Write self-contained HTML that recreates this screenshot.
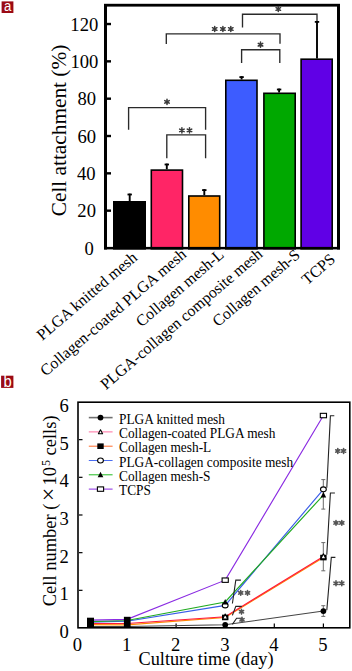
<!DOCTYPE html><html><head><meta charset="utf-8"><style>html,body{margin:0;padding:0;background:#fff;}svg{display:block;}text{font-family:"Liberation Serif",serif;}</style></head><body>
<svg width="352" height="671" viewBox="0 0 352 671">
<rect x="1.6" y="1.4" width="11.8" height="11.6" fill="#9b0a14"/>
<text transform="translate(7.6,11.3) scale(0.85,1)" text-anchor="middle" font-size="15.5" fill="#fff" style="font-family:'Liberation Sans',sans-serif">a</text>
<rect x="1.1" y="375.7" width="12.3" height="12.2" fill="#9b0a14"/>
<text transform="translate(7.6,387.2) scale(0.9,1)" text-anchor="middle" font-size="16.5" fill="#fff" style="font-family:'Liberation Sans',sans-serif">b</text>
<line x1="129.7" y1="201" x2="129.7" y2="193.6" stroke="#000" stroke-width="1.9"/>
<line x1="127.49999999999999" y1="194.5" x2="131.89999999999998" y2="194.5" stroke="#000" stroke-width="1.8"/>
<rect x="113.8" y="201.8" width="31.4" height="47" fill="#000000" stroke="#000" stroke-width="1.6"/>
<line x1="166.8" y1="169.3" x2="166.8" y2="163.6" stroke="#000" stroke-width="1.9"/>
<line x1="164.60000000000002" y1="164.5" x2="169.0" y2="164.5" stroke="#000" stroke-width="1.8"/>
<rect x="151.3" y="170.10000000000002" width="31.20000000000001" height="78.69999999999999" fill="#ff2566" stroke="#000" stroke-width="1.6"/>
<line x1="204.3" y1="195.2" x2="204.3" y2="189.2" stroke="#000" stroke-width="1.9"/>
<line x1="202.10000000000002" y1="190.1" x2="206.5" y2="190.1" stroke="#000" stroke-width="1.8"/>
<rect x="188.8" y="196.0" width="30.9" height="52.80000000000001" fill="#ff8c00" stroke="#000" stroke-width="1.6"/>
<line x1="241.6" y1="79.5" x2="241.6" y2="76.2" stroke="#000" stroke-width="1.9"/>
<line x1="239.4" y1="77.10000000000001" x2="243.79999999999998" y2="77.10000000000001" stroke="#000" stroke-width="1.8"/>
<rect x="225.8" y="80.3" width="31.20000000000001" height="168.5" fill="#3d5cff" stroke="#000" stroke-width="1.6"/>
<line x1="279.1" y1="92.5" x2="279.1" y2="88.6" stroke="#000" stroke-width="1.9"/>
<line x1="276.90000000000003" y1="89.5" x2="281.3" y2="89.5" stroke="#000" stroke-width="1.8"/>
<rect x="263.90000000000003" y="93.3" width="31.299999999999976" height="155.5" fill="#00a800" stroke="#000" stroke-width="1.6"/>
<line x1="317" y1="58.4" x2="317" y2="21" stroke="#000" stroke-width="1.9"/>
<line x1="314.8" y1="21.9" x2="319.2" y2="21.9" stroke="#000" stroke-width="1.8"/>
<rect x="301.1" y="59.199999999999996" width="31.099999999999987" height="189.6" fill="#6000e6" stroke="#000" stroke-width="1.6"/>
<path d="M105.5 4V249.4M338.5 4V249.4" fill="none" stroke="#000" stroke-width="3"/>
<rect x="104" y="3.8" width="236" height="2.8" fill="#000"/>
<rect x="104" y="246.9" width="236" height="2.5" fill="#000"/>
<text x="89.15" y="254.80" text-anchor="middle" font-size="18.6">0</text>
<line x1="107" y1="210.67" x2="111" y2="210.67" stroke="#000" stroke-width="2.4"/>
<text x="86.65" y="217.47" text-anchor="middle" font-size="18.6">20</text>
<line x1="107" y1="173.34" x2="111" y2="173.34" stroke="#000" stroke-width="2.4"/>
<text x="86.3" y="180.14" text-anchor="middle" font-size="18.6">40</text>
<line x1="107" y1="136.01" x2="111" y2="136.01" stroke="#000" stroke-width="2.4"/>
<text x="86.7" y="142.81" text-anchor="middle" font-size="18.6">60</text>
<line x1="107" y1="98.68" x2="111" y2="98.68" stroke="#000" stroke-width="2.4"/>
<text x="86.7" y="105.48" text-anchor="middle" font-size="18.6">80</text>
<line x1="107" y1="61.35" x2="111" y2="61.35" stroke="#000" stroke-width="2.4"/>
<text x="84.4" y="68.15" text-anchor="middle" font-size="18.6">100</text>
<line x1="107" y1="24.02" x2="111" y2="24.02" stroke="#000" stroke-width="2.4"/>
<text x="84.3" y="30.82" text-anchor="middle" font-size="18.6">120</text>
<text transform="translate(66,130.5) rotate(-90)" text-anchor="middle" font-size="21.3">Cell attachment (%)</text>
<path d="M242.5 27.4V14.2H317V21" fill="none" stroke="#2a2a2a" stroke-width="1.35"/>
<path d="M278.30 6.40L278.30 11.60M280.55 7.70L276.05 10.30M280.55 10.30L276.05 7.70" stroke="#3a3a3a" stroke-width="1.5" stroke-linecap="round"/>
<path d="M166.3 44.0V33.9H280V43.7" fill="none" stroke="#2a2a2a" stroke-width="1.35"/>
<path d="M214.70 26.40L214.70 31.60M216.95 27.70L212.45 30.30M216.95 30.30L212.45 27.70" stroke="#3a3a3a" stroke-width="1.5" stroke-linecap="round"/>
<path d="M222.90 26.40L222.90 31.60M225.15 27.70L220.65 30.30M225.15 30.30L220.65 27.70" stroke="#3a3a3a" stroke-width="1.5" stroke-linecap="round"/>
<path d="M230.80 26.40L230.80 31.60M233.05 27.70L228.55 30.30M233.05 30.30L228.55 27.70" stroke="#3a3a3a" stroke-width="1.5" stroke-linecap="round"/>
<path d="M241.6 63.0V49.7H279.8V63.0" fill="none" stroke="#2a2a2a" stroke-width="1.35"/>
<path d="M260.50 42.10L260.50 47.30M262.75 43.40L258.25 46.00M262.75 46.00L258.25 43.40" stroke="#3a3a3a" stroke-width="1.5" stroke-linecap="round"/>
<path d="M128.6 129.8V107.6H205.6V129.8" fill="none" stroke="#2a2a2a" stroke-width="1.35"/>
<path d="M167.00 99.30L167.00 104.50M169.25 100.60L164.75 103.20M169.25 103.20L164.75 100.60" stroke="#3a3a3a" stroke-width="1.5" stroke-linecap="round"/>
<path d="M166.8 158.3V134.9H205.6V158.3" fill="none" stroke="#2a2a2a" stroke-width="1.35"/>
<path d="M181.90 127.80L181.90 133.00M184.15 129.10L179.65 131.70M184.15 131.70L179.65 129.10" stroke="#3a3a3a" stroke-width="1.5" stroke-linecap="round"/>
<path d="M189.50 127.80L189.50 133.00M191.75 129.10L187.25 131.70M191.75 131.70L187.25 129.10" stroke="#3a3a3a" stroke-width="1.5" stroke-linecap="round"/>
<text transform="translate(138.3,259.0) rotate(-40.5)" text-anchor="end" font-size="15.9">PLGA knitted mesh</text>
<text transform="translate(187.4,255.9) rotate(-40.5)" text-anchor="end" font-size="15.9">Collagen-coated PLGA mesh</text>
<text transform="translate(225.0,256.2) rotate(-40.5)" text-anchor="end" font-size="15.9">Collagen mesh-L</text>
<text transform="translate(263.6,255.5) rotate(-40.5)" text-anchor="end" font-size="15.9">PLGA-collagen composite mesh</text>
<text transform="translate(301.0,256.5) rotate(-40.5)" text-anchor="end" font-size="15.9">Collagen mesh-S</text>
<text transform="translate(336.2,260.8) rotate(-40.5)" text-anchor="end" font-size="15.9">TCPS</text>
<rect x="78.0" y="402.2" width="271.8" height="225.6" fill="none" stroke="#000" stroke-width="1.6"/>
<line x1="127.00" y1="627" x2="127.00" y2="623.5" stroke="#000" stroke-width="1.2"/>
<line x1="176.10" y1="627" x2="176.10" y2="623.5" stroke="#000" stroke-width="1.2"/>
<line x1="225.20" y1="627" x2="225.20" y2="623.5" stroke="#000" stroke-width="1.2"/>
<line x1="274.30" y1="627" x2="274.30" y2="623.5" stroke="#000" stroke-width="1.2"/>
<line x1="323.40" y1="627" x2="323.40" y2="623.5" stroke="#000" stroke-width="1.2"/>
<line x1="79" y1="590.33" x2="82.5" y2="590.33" stroke="#000" stroke-width="1.2"/>
<line x1="79" y1="552.66" x2="82.5" y2="552.66" stroke="#000" stroke-width="1.2"/>
<line x1="79" y1="514.99" x2="82.5" y2="514.99" stroke="#000" stroke-width="1.2"/>
<line x1="79" y1="477.32" x2="82.5" y2="477.32" stroke="#000" stroke-width="1.2"/>
<line x1="79" y1="439.65" x2="82.5" y2="439.65" stroke="#000" stroke-width="1.2"/>
<text x="77.50" y="650.80" text-anchor="middle" font-size="18.6">0</text>
<text x="126.60" y="650.80" text-anchor="middle" font-size="18.6">1</text>
<text x="175.70" y="650.80" text-anchor="middle" font-size="18.6">2</text>
<text x="224.80" y="650.80" text-anchor="middle" font-size="18.6">3</text>
<text x="273.90" y="650.80" text-anchor="middle" font-size="18.6">4</text>
<text x="323.00" y="650.80" text-anchor="middle" font-size="18.6">5</text>
<text x="64.20" y="638.00" text-anchor="middle" font-size="18.6">0</text>
<text x="64.20" y="600.33" text-anchor="middle" font-size="18.6">1</text>
<text x="64.20" y="562.66" text-anchor="middle" font-size="18.6">2</text>
<text x="64.20" y="524.99" text-anchor="middle" font-size="18.6">3</text>
<text x="64.20" y="487.32" text-anchor="middle" font-size="18.6">4</text>
<text x="64.20" y="449.65" text-anchor="middle" font-size="18.6">5</text>
<text x="64.20" y="411.98" text-anchor="middle" font-size="18.6">6</text>
<text transform="translate(55.8,606.3) rotate(-90)" font-size="18.5">Cell number</text>
<text transform="translate(55.8,509.8) rotate(-90)" font-size="18.5">(</text>
<text transform="translate(55.8,501.3) rotate(-90)" font-size="24">×</text>
<text transform="translate(55.8,485.5) rotate(-90)" font-size="18.5">10</text>
<text transform="translate(49.6,466.0) rotate(-90)" font-size="12">5</text>
<text transform="translate(55.8,455.5) rotate(-90)" font-size="18.5">cells)</text>
<text x="206" y="665.2" text-anchor="middle" font-size="18.3">Culture time (day)</text>
<path d="M90.18 626.49L127.00 626.49L225.20 624.80L323.40 611.05" fill="none" stroke="#444444" stroke-width="1.15"/>
<path d="M90.18 624.61L127.00 624.80L225.20 617.45L323.40 557.56" fill="none" stroke="#ff8800" stroke-width="1.15"/>
<path d="M90.18 623.48L127.00 623.48L225.20 616.70L323.40 556.43" fill="none" stroke="#ff1a3a" stroke-width="1.15"/>
<path d="M90.18 622.16L127.00 621.22L225.20 605.40L323.40 489.37" fill="none" stroke="#3a5ce8" stroke-width="1.15"/>
<path d="M90.18 621.60L127.00 620.47L225.20 602.01L323.40 495.02" fill="none" stroke="#20aa20" stroke-width="1.15"/>
<path d="M90.18 620.09L127.00 619.34L225.20 580.16L323.40 415.54" fill="none" stroke="#8a2be2" stroke-width="1.15"/>
<path d="M323.3 479.6V509.1M321.3 479.6H325.3M321.3 509.1H325.3" stroke="#6a6a6a" stroke-width="1.0" fill="none"/>
<path d="M323.3 542.6V570.8M321.3 542.6H325.3M321.3 570.8H325.3" stroke="#6a6a6a" stroke-width="1.0" fill="none"/>
<path d="M323.3 605.7V616.4M321.3 605.7H325.3M321.3 616.4H325.3" stroke="#6a6a6a" stroke-width="1.0" fill="none"/>
<circle cx="225.20" cy="624.80" r="2.9" fill="#000"/>
<circle cx="323.40" cy="611.05" r="2.9" fill="#000"/>
<rect x="222.00" y="614.65" width="6.4" height="5.6" fill="#000"/>
<rect x="320.20" y="554.76" width="6.4" height="5.6" fill="#000"/>
<path d="M225.20 614.06L227.72 618.98L222.68 618.98Z" fill="#fff" stroke="#000" stroke-width="1.1" stroke-linejoin="round"/>
<path d="M323.40 553.79L325.92 558.71L320.88 558.71Z" fill="#fff" stroke="#000" stroke-width="1.1" stroke-linejoin="round"/>
<ellipse cx="225.20" cy="605.40" rx="2.9" ry="2.5" fill="#fff" stroke="#000" stroke-width="1.1"/>
<ellipse cx="323.40" cy="489.37" rx="2.9" ry="2.5" fill="#fff" stroke="#000" stroke-width="1.1"/>
<path d="M225.20 599.01L228.00 604.51L222.40 604.51Z" fill="#000"/>
<path d="M323.40 492.02L326.20 497.52L320.60 497.52Z" fill="#000"/>
<rect x="222.10" y="577.96" width="6.2" height="4.4" fill="#fff" stroke="#000" stroke-width="1.1"/>
<rect x="320.30" y="413.34" width="6.2" height="4.4" fill="#fff" stroke="#000" stroke-width="1.1"/>
<rect x="87" y="617.7" width="7" height="10.3" fill="#000"/>
<rect x="123.9" y="616.8" width="6.7" height="11.2" fill="#000"/>
<line x1="88.8" y1="417.60" x2="112.6" y2="417.60" stroke="#707070" stroke-width="1.6"/>
<circle cx="100.50" cy="417.60" r="2.9" fill="#000"/>
<text transform="translate(119.0,423.60) scale(1,1.07)" font-size="13.35">PLGA knitted mesh</text>
<line x1="88.8" y1="431.90" x2="112.6" y2="431.90" stroke="#ff6fa0" stroke-width="1.0"/>
<path d="M100.50 429.70L102.60 433.80L98.40 433.80Z" fill="#fff" stroke="#000" stroke-width="1.1" stroke-linejoin="round"/>
<text transform="translate(119.0,437.90) scale(1,1.07)" font-size="13.35">Collagen-coated PLGA mesh</text>
<line x1="88.8" y1="446.20" x2="112.6" y2="446.20" stroke="#ff6a2a" stroke-width="1.0"/>
<rect x="97.30" y="443.40" width="6.4" height="5.6" fill="#000"/>
<text transform="translate(119.0,452.20) scale(1,1.07)" font-size="13.35">Collagen mesh-L</text>
<line x1="88.8" y1="460.50" x2="112.6" y2="460.50" stroke="#4a6cf0" stroke-width="1.0"/>
<ellipse cx="100.50" cy="460.50" rx="2.9" ry="2.5" fill="#fff" stroke="#000" stroke-width="1.1"/>
<text transform="translate(119.0,466.50) scale(1,1.07)" font-size="13.35">PLGA-collagen composite mesh</text>
<line x1="88.8" y1="474.80" x2="112.6" y2="474.80" stroke="#22bb22" stroke-width="1.0"/>
<path d="M100.50 471.80L103.30 477.30L97.70 477.30Z" fill="#000"/>
<text transform="translate(119.0,480.80) scale(1,1.07)" font-size="13.35">Collagen mesh-S</text>
<line x1="88.8" y1="489.10" x2="112.6" y2="489.10" stroke="#8a2be2" stroke-width="1.0"/>
<rect x="97.40" y="486.90" width="6.2" height="4.4" fill="#fff" stroke="#000" stroke-width="1.1"/>
<text transform="translate(119.0,495.10) scale(1,1.07)" font-size="13.35">TCPS</text>
<path d="M232.4 603.5L235.8 580.1H240.9" fill="none" stroke="#222" stroke-width="1.1"/>
<path d="M240.70 590.50L240.70 595.30M242.78 591.70L238.62 594.10M242.78 594.10L238.62 591.70" stroke="#555" stroke-width="1.6" stroke-linecap="round"/>
<path d="M247.50 590.50L247.50 595.30M249.58 591.70L245.42 594.10M249.58 594.10L245.42 591.70" stroke="#555" stroke-width="1.6" stroke-linecap="round"/>
<path d="M232.4 615.4L235.8 606.4H241.8" fill="none" stroke="#222" stroke-width="1.1"/>
<path d="M241.50 609.30L241.50 614.10M243.58 610.50L239.42 612.90M243.58 612.90L239.42 610.50" stroke="#555" stroke-width="1.6" stroke-linecap="round"/>
<path d="M232.4 624.4L236.6 618.3H242.6" fill="none" stroke="#222" stroke-width="1.1"/>
<path d="M242.00 617.40L242.00 622.20M244.08 618.60L239.92 621.00M244.08 621.00L239.92 618.60" stroke="#555" stroke-width="1.6" stroke-linecap="round"/>
<path d="M326.8 487.7L330.4 415.7H334.3" fill="none" stroke="#222" stroke-width="1.1"/>
<path d="M337.80 448.60L337.80 453.40M339.88 449.80L335.72 452.20M339.88 452.20L335.72 449.80" stroke="#555" stroke-width="1.6" stroke-linecap="round"/>
<path d="M343.60 448.60L343.60 453.40M345.68 449.80L341.52 452.20M345.68 452.20L341.52 449.80" stroke="#555" stroke-width="1.6" stroke-linecap="round"/>
<path d="M326.8 554.7L330.4 493.0H334.9" fill="none" stroke="#222" stroke-width="1.1"/>
<path d="M336.00 520.50L336.00 525.30M338.08 521.70L333.92 524.10M338.08 524.10L333.92 521.70" stroke="#555" stroke-width="1.6" stroke-linecap="round"/>
<path d="M341.80 520.50L341.80 525.30M343.88 521.70L339.72 524.10M343.88 524.10L339.72 521.70" stroke="#555" stroke-width="1.6" stroke-linecap="round"/>
<path d="M326.8 610.2L331.3 557.4H335.4" fill="none" stroke="#222" stroke-width="1.1"/>
<path d="M336.00 580.90L336.00 585.70M338.08 582.10L333.92 584.50M338.08 584.50L333.92 582.10" stroke="#555" stroke-width="1.6" stroke-linecap="round"/>
<path d="M341.80 580.90L341.80 585.70M343.88 582.10L339.72 584.50M343.88 584.50L339.72 582.10" stroke="#555" stroke-width="1.6" stroke-linecap="round"/>
</svg></body></html>
